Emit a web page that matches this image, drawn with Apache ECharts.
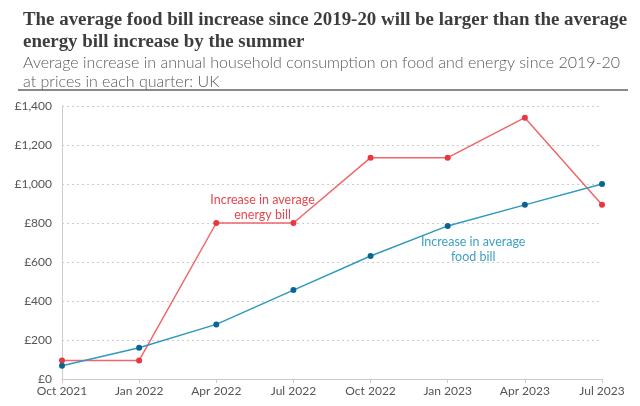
<!DOCTYPE html>
<html lang="en" style="height: 100%">
<head>
  <meta charset="utf-8">
</head>
<body style="height: 100%; margin: 0">
  <div id="container" style="width: 640px; height: 406px"></div>

  <script type="text/javascript" src="https://cdn.jsdelivr.net/npm/echarts@6/dist/echarts.min.js"></script>
  <script type="text/javascript">
    var quarters = ['Oct 2021', 'Jan 2022', 'Apr 2022', 'Jul 2022', 'Oct 2022', 'Jan 2023', 'Apr 2023', 'Jul 2023'];
    var energyBill = [95, 95, 800, 800, 1135, 1135, 1340, 893];
    var foodBill = [68, 160, 280, 456, 631, 785, 893, 1000];
    var yTicks = [0, 200, 400, 600, 800, 1000, 1200, 1400];

    var red = '#f0676b';
    var blue = '#2f99bf';

    function pairs(arr) {
      return arr.map(function (v, i) { return [i, v]; });
    }

    var dom = document.getElementById('container');
    var myChart = echarts.init(dom, null, { renderer: 'canvas' });

    var option = {
      animation: false,
      backgroundColor: '#fff',
      title: [
        {
          text: 'The average food bill increase since 2019-20 will be larger than the average\nenergy bill increase by the summer',
          left: 18, top: 4,
          textStyle: { fontFamily: 'Liberation Serif', fontWeight: 'bold', fontSize: 18.9, color: '#3d3d3d', lineHeight: 22 }
        },
        {
          text: 'Average increase in annual household consumption on food and energy since 2019-20\nat prices in each quarter: UK',
          left: 18, top: 48,
          textStyle: { fontFamily: 'Lato', fontWeight: 300, fontSize: 16, color: '#5a5a5a', lineHeight: 19 }
        }
      ],
      graphic: [{
        type: 'line',
        shape: { x1: 18, y1: 90, x2: 628, y2: 90 },
        style: { stroke: '#8a8a8a', lineWidth: 2 }
      }],
      grid: { left: 62, right: 38, top: 106, bottom: 27 },
      xAxis: {
        type: 'value',
        min: 0, max: quarters.length - 1, interval: 1,
        axisLine: { lineStyle: { color: '#ccc' } },
        axisTick: { show: true, length: 4, lineStyle: { color: '#ccc' } },
        splitLine: { show: false },
        axisLabel: {
          color: '#555', fontFamily: 'Lato', fontSize: 12, margin: 6,
          formatter: function (v) { return quarters[v] || ''; }
        }
      },
      yAxis: {
        type: 'value',
        min: yTicks[0], max: yTicks[yTicks.length - 1], interval: 200,
        axisLine: { show: true, lineStyle: { color: '#ccc' } },
        axisTick: { show: false },
        splitLine: { lineStyle: { color: '#ccc', type: [2, 3] } },
        axisLabel: {
          color: '#555', fontFamily: 'Lato', fontSize: 12, margin: 10,
          formatter: function (v) { return '£' + v.toLocaleString('en-GB'); }
        }
      },
      series: [
        {
          name: 'Energy',
          type: 'line',
          data: pairs(energyBill),
          symbol: 'circle', symbolSize: 6,
          lineStyle: { color: red, width: 1.5 },
          itemStyle: { color: '#e8383e' },
          markPoint: {
            symbolSize: 0,
            data: [{ coord: [2.6, 880], value: 'Increase in average\nenergy bill' }],
            label: { show: true, color: '#e8474e', fontFamily: 'Lato', fontSize: 12.5, lineHeight: 15, align: 'center', formatter: '{c}' }
          }
        },
        {
          name: 'Food',
          type: 'line',
          data: pairs(foodBill),
          symbol: 'circle', symbolSize: 6,
          lineStyle: { color: blue, width: 1.5 },
          itemStyle: { color: '#0b6590' },
          markPoint: {
            symbolSize: 0,
            data: [{ coord: [5.33, 662], value: 'Increase in average\nfood bill' }],
            label: { show: true, color: '#3f9fc4', fontFamily: 'Lato', fontSize: 12.5, lineHeight: 15, align: 'center', formatter: '{c}' }
          }
        }
      ]
    };

    myChart.setOption(option);
    window.addEventListener('resize', myChart.resize);
  </script>
</body>
</html>
